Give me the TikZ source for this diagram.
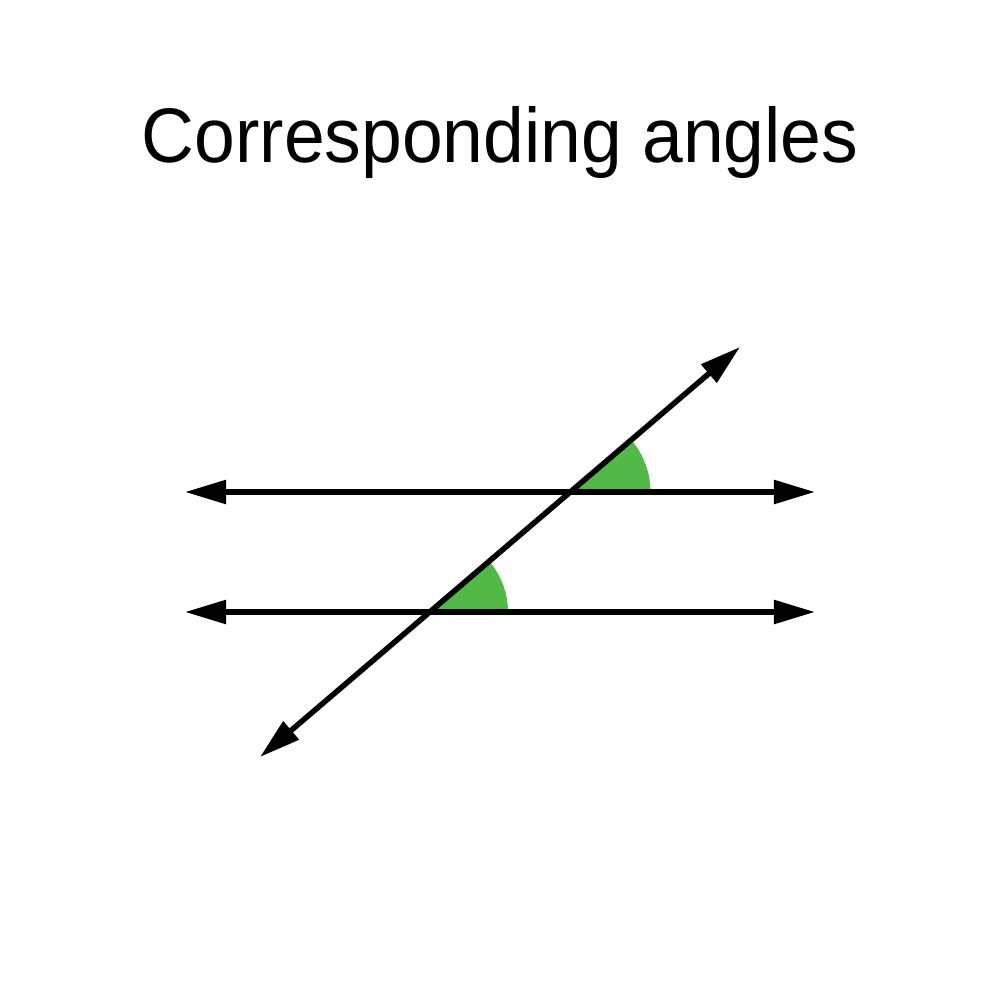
\documentclass[tikz,border=0pt]{standalone}
\usepackage{fontspec}
\setmainfont{Liberation Sans}
\usetikzlibrary{arrows.meta,calc}
\definecolor{anglegreen}{HTML}{52B848}
\tikzset{
  ray/.style={line width=0.055cm, {Triangle[length=0.41cm,width=0.23cm]}-{Triangle[length=0.41cm,width=0.23cm]}},
  wedge/.style={fill=anglegreen, draw=none},
  titletext/.style={font=\fontsize{22}{26}\selectfont, anchor=base, inner sep=0pt, xscale=0.947}
}
\begin{document}
\begin{tikzpicture}[x=0.01cm,y=-0.01cm]
\useasboundingbox (0,0) rectangle (1000,1000);
\node[titletext] (title) at (500,162) {Corresponding angles};
% points
\coordinate (aL) at (185,492);
\coordinate (aR) at (815,492);
\coordinate (bL) at (185,612);
\coordinate (bR) at (815,612);
\coordinate (tA) at (260,757);
\coordinate (tB) at (740,347);
\coordinate (X1) at (570.5,492);
\coordinate (X2) at (430,612);
% angle wedges
\fill[wedge] (X1) -- ++(80,0) arc[start angle=0,end angle=-40.5,radius=80] -- cycle;
\fill[wedge] (X2) -- ++(78,0) arc[start angle=0,end angle=-40.5,radius=78] -- cycle;
% lines
\draw[ray] (aL) -- (aR);
\draw[ray] (bL) -- (bR);
\draw[ray] (tA) -- (tB);
\end{tikzpicture}
\end{document}
